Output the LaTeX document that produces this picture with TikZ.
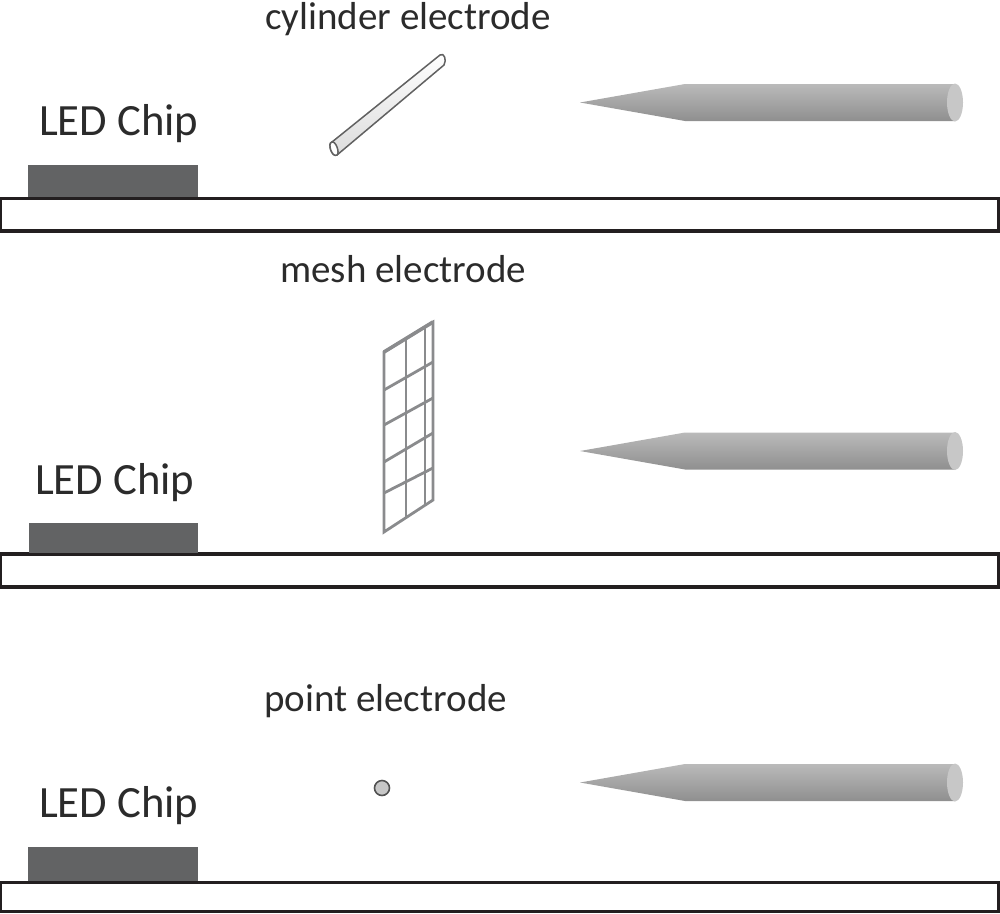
\documentclass[tikz,border=0pt]{standalone}
\usepackage{fontspec}
\setmainfont{Carlito}
\definecolor{chipgray}{HTML}{626364}
\definecolor{inkdark}{HTML}{231F20}
\definecolor{textdark}{HTML}{2B2B2B}
\definecolor{meshgray}{HTML}{8A8B8D}
\tikzset{
  x=1pt,y=-1pt,
  chip/.style={fill=chipgray,draw=none},
  base/.style={draw=inkdark,line width=3.2pt,fill=white},
  biglabel/.style={anchor=base west,inner sep=0pt,text=textdark,font=\fontsize{44.7}{46}\selectfont},
  smalllabel/.style={anchor=base west,inner sep=0pt,text=textdark,font=\fontsize{39}{41}\selectfont},
  meshline/.style={draw=meshgray,line width=2.8pt},
  pics/needle/.style={code={
    \shade[top color=black!27,bottom color=black!44,draw=none]
      (-375,0) -- (-270,-18.5) -- (0,-18.5) -- (0,18.5) -- (-270,18.5) -- cycle;
    \fill[black!22] (0,0) ellipse [x radius=8,y radius=19];
  }},
}
\begin{document}
\begin{tikzpicture}
\useasboundingbox (0,0) rectangle (1000,913);
% substrates and chips
\draw[base] (0,198.5) rectangle (998.5,231);
\draw[base] (0,554) rectangle (998.5,587);
\draw[base] (0,882.5) rectangle (998.5,911.5);
\fill[chip] (28,165) rectangle (198,197);
\fill[chip] (29,523) rectangle (198,553);
\fill[chip] (28,847) rectangle (198,881);
% labels
\node[biglabel] (l1) at (39,135) {LED Chip};
\node[biglabel] (l2) at (35,494) {LED Chip};
\node[biglabel] (l3) at (39,817) {LED Chip};
\node[smalllabel] (c1) at (265,29) {cylinder electrode};
\node[smalllabel] (c2) at (280,282) {mesh electrode};
\node[smalllabel] (c3) at (264,711) {point electrode};
% needles
\pic at (955,102.5) {needle};
\pic at (955,451) {needle};
\pic at (955,782.5) {needle};
% cylinder electrode
\shade[top color=white,bottom color=black!14,draw=black!62,line width=1.5pt]
  (332,142) -- (440,55) .. controls (444,52) and (447,60) .. (444,65) -- (337,155) .. controls (332,158) and (327,143) .. (332,142) -- cycle;
\draw[black!62,line width=1.5pt,fill=white]
  (332,142) .. controls (327,143) and (332,158) .. (337,155) .. controls (340,153) and (336,141) .. (332,142) -- cycle;
% mesh electrode
\draw[meshline] (384,352) -- (433,322) -- (433,500) -- (384,532) -- cycle;
\draw[meshline,line width=3.6pt] (384,352) -- (433,322);
\draw[meshline] (406,339) -- (406,518);
\draw[meshline] (425,327) -- (425,505);
\draw[meshline] (384,390) -- (433,362);
\draw[meshline] (384,425) -- (433,398);
\draw[meshline] (384,462) -- (433,433);
\draw[meshline] (384,493) -- (433,468);
% point electrode
\draw[fill=black!22,draw=black!68,line width=1.6pt] (382,788) circle [radius=7.5];
\end{tikzpicture}
\end{document}
